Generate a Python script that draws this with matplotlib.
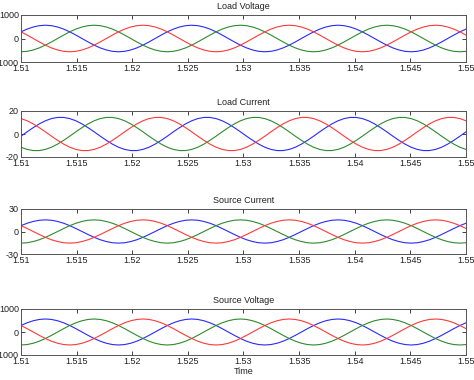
import numpy as np
import matplotlib
matplotlib.use("Agg")
import matplotlib.pyplot as plt

# sample times (s)
t = np.linspace(1.51, 1.55, 74)

# ---- Load Voltage (V) ----
load_v_blue = [
    283, 400, 489, 546, 565, 546, 489, 400, 283, 146, 0, -146,
    -283, -400, -489, -546, -565, -546, -489, -400, -283, -146, 0, 146,
    283, 400, 489, 546, 565, 546, 489, 400, 283, 146, 0, -146,
    -283, -400, -489, -546, -565, -546, -489, -400, -283, -146, 0, 146,
    283, 400, 489, 546, 565, 546, 489, 400, 283, 146, 0, -146,
    -283, -400, -489, -546, -565, -546, -489, -400, -283, -146, 0, 146,
    283, 400]
load_v_green = [
    -565, -546, -489, -400, -283, -146, 0, 146, 283, 400, 489, 546,
    565, 546, 489, 400, 283, 146, 0, -146, -283, -400, -489, -546,
    -565, -546, -489, -400, -283, -146, 0, 146, 283, 400, 489, 546,
    565, 546, 489, 400, 283, 146, 0, -146, -283, -400, -489, -546,
    -565, -546, -489, -400, -283, -146, 0, 146, 283, 400, 489, 546,
    565, 546, 489, 400, 283, 146, 0, -146, -283, -400, -489, -546,
    -565, -546]
load_v_red = [
    283, 146, 0, -146, -283, -400, -489, -546, -565, -546, -489, -400,
    -283, -146, 0, 146, 283, 400, 489, 546, 565, 546, 489, 400,
    283, 146, 0, -146, -283, -400, -489, -546, -565, -546, -489, -400,
    -283, -146, 0, 146, 283, 400, 489, 546, 565, 546, 489, 400,
    283, 146, 0, -146, -283, -400, -489, -546, -565, -546, -489, -400,
    -283, -146, 0, 146, 283, 400, 489, 546, 565, 546, 489, 400,
    283, 146]

# ---- Load Current (A) ----
load_i_blue = [
    -1.9, 1.9, 5.5, 8.8, 11.5, 13.4, 14.4, 14.4, 13.4, 11.5, 8.8, 5.5,
    1.9, -1.9, -5.5, -8.8, -11.5, -13.4, -14.4, -14.4, -13.4, -11.5, -8.8, -5.5,
    -1.9, 1.9, 5.5, 8.8, 11.5, 13.4, 14.4, 14.4, 13.4, 11.5, 8.8, 5.5,
    1.9, -1.9, -5.5, -8.8, -11.5, -13.4, -14.4, -14.4, -13.4, -11.5, -8.8, -5.5,
    -1.9, 1.9, 5.5, 8.8, 11.5, 13.4, 14.4, 14.4, 13.4, 11.5, 8.8, 5.5,
    1.9, -1.9, -5.5, -8.8, -11.5, -13.4, -14.4, -14.4, -13.4, -11.5, -8.8, -5.5,
    -1.9, 1.9]
load_i_green = [
    -11.5, -13.4, -14.4, -14.4, -13.4, -11.5, -8.8, -5.5, -1.9, 1.9, 5.5, 8.8,
    11.5, 13.4, 14.4, 14.4, 13.4, 11.5, 8.8, 5.5, 1.9, -1.9, -5.5, -8.8,
    -11.5, -13.4, -14.4, -14.4, -13.4, -11.5, -8.8, -5.5, -1.9, 1.9, 5.5, 8.8,
    11.5, 13.4, 14.4, 14.4, 13.4, 11.5, 8.8, 5.5, 1.9, -1.9, -5.5, -8.8,
    -11.5, -13.4, -14.4, -14.4, -13.4, -11.5, -8.8, -5.5, -1.9, 1.9, 5.5, 8.8,
    11.5, 13.4, 14.4, 14.4, 13.4, 11.5, 8.8, 5.5, 1.9, -1.9, -5.5, -8.8,
    -11.5, -13.4]
load_i_red = [
    13.4, 11.5, 8.8, 5.5, 1.9, -1.9, -5.5, -8.8, -11.5, -13.4, -14.4, -14.4,
    -13.4, -11.5, -8.8, -5.5, -1.9, 1.9, 5.5, 8.8, 11.5, 13.4, 14.4, 14.4,
    13.4, 11.5, 8.8, 5.5, 1.9, -1.9, -5.5, -8.8, -11.5, -13.4, -14.4, -14.4,
    -13.4, -11.5, -8.8, -5.5, -1.9, 1.9, 5.5, 8.8, 11.5, 13.4, 14.4, 14.4,
    13.4, 11.5, 8.8, 5.5, 1.9, -1.9, -5.5, -8.8, -11.5, -13.4, -14.4, -14.4,
    -13.4, -11.5, -8.8, -5.5, -1.9, 1.9, 5.5, 8.8, 11.5, 13.4, 14.4, 14.4,
    13.4, 11.5]

# ---- Source Current (A) ----
src_i_blue = [
    7.8, 11.0, 13.4, 15.0, 15.5, 15.0, 13.4, 11.0, 7.8, 4.0, 0.0, -4.0,
    -7.8, -11.0, -13.4, -15.0, -15.5, -15.0, -13.4, -11.0, -7.8, -4.0, 0.0, 4.0,
    7.8, 11.0, 13.4, 15.0, 15.5, 15.0, 13.4, 11.0, 7.8, 4.0, 0.0, -4.0,
    -7.8, -11.0, -13.4, -15.0, -15.5, -15.0, -13.4, -11.0, -7.8, -4.0, 0.0, 4.0,
    7.8, 11.0, 13.4, 15.0, 15.5, 15.0, 13.4, 11.0, 7.8, 4.0, 0.0, -4.0,
    -7.8, -11.0, -13.4, -15.0, -15.5, -15.0, -13.4, -11.0, -7.8, -4.0, 0.0, 4.0,
    7.8, 11.0]
src_i_green = [
    -15.5, -15.0, -13.4, -11.0, -7.8, -4.0, 0.0, 4.0, 7.8, 11.0, 13.4, 15.0,
    15.5, 15.0, 13.4, 11.0, 7.8, 4.0, 0.0, -4.0, -7.8, -11.0, -13.4, -15.0,
    -15.5, -15.0, -13.4, -11.0, -7.8, -4.0, 0.0, 4.0, 7.8, 11.0, 13.4, 15.0,
    15.5, 15.0, 13.4, 11.0, 7.8, 4.0, 0.0, -4.0, -7.8, -11.0, -13.4, -15.0,
    -15.5, -15.0, -13.4, -11.0, -7.8, -4.0, 0.0, 4.0, 7.8, 11.0, 13.4, 15.0,
    15.5, 15.0, 13.4, 11.0, 7.8, 4.0, 0.0, -4.0, -7.8, -11.0, -13.4, -15.0,
    -15.5, -15.0]
src_i_red = [
    7.8, 4.0, 0.0, -4.0, -7.8, -11.0, -13.4, -15.0, -15.5, -15.0, -13.4, -11.0,
    -7.8, -4.0, 0.0, 4.0, 7.8, 11.0, 13.4, 15.0, 15.5, 15.0, 13.4, 11.0,
    7.8, 4.0, 0.0, -4.0, -7.8, -11.0, -13.4, -15.0, -15.5, -15.0, -13.4, -11.0,
    -7.8, -4.0, 0.0, 4.0, 7.8, 11.0, 13.4, 15.0, 15.5, 15.0, 13.4, 11.0,
    7.8, 4.0, 0.0, -4.0, -7.8, -11.0, -13.4, -15.0, -15.5, -15.0, -13.4, -11.0,
    -7.8, -4.0, 0.0, 4.0, 7.8, 11.0, 13.4, 15.0, 15.5, 15.0, 13.4, 11.0,
    7.8, 4.0]

# ---- Source Voltage (V) ----
src_v_blue = [
    283, 400, 489, 546, 565, 546, 489, 400, 283, 146, 0, -146,
    -283, -400, -489, -546, -565, -546, -489, -400, -283, -146, 0, 146,
    283, 400, 489, 546, 565, 546, 489, 400, 283, 146, 0, -146,
    -283, -400, -489, -546, -565, -546, -489, -400, -283, -146, 0, 146,
    283, 400, 489, 546, 565, 546, 489, 400, 283, 146, 0, -146,
    -283, -400, -489, -546, -565, -546, -489, -400, -283, -146, 0, 146,
    283, 400]
src_v_green = [
    -565, -546, -489, -400, -283, -146, 0, 146, 283, 400, 489, 546,
    565, 546, 489, 400, 283, 146, 0, -146, -283, -400, -489, -546,
    -565, -546, -489, -400, -283, -146, 0, 146, 283, 400, 489, 546,
    565, 546, 489, 400, 283, 146, 0, -146, -283, -400, -489, -546,
    -565, -546, -489, -400, -283, -146, 0, 146, 283, 400, 489, 546,
    565, 546, 489, 400, 283, 146, 0, -146, -283, -400, -489, -546,
    -565, -546]
src_v_red = [
    283, 146, 0, -146, -283, -400, -489, -546, -565, -546, -489, -400,
    -283, -146, 0, 146, 283, 400, 489, 546, 565, 546, 489, 400,
    283, 146, 0, -146, -283, -400, -489, -546, -565, -546, -489, -400,
    -283, -146, 0, 146, 283, 400, 489, 546, 565, 546, 489, 400,
    283, 146, 0, -146, -283, -400, -489, -546, -565, -546, -489, -400,
    -283, -146, 0, 146, 283, 400, 489, 546, 565, 546, 489, 400,
    283, 146]

titles = ["Load Voltage", "Load Current", "Source Current", "Source Voltage"]
ylims = [(-1000, 1000), (-20, 20), (-30, 30), (-1000, 1000)]
yticks = [[-1000, 0, 1000], [-20, 0, 20], [-30, 0, 30], [-1000, 0, 1000]]
xticks = [1.51, 1.515, 1.52, 1.525, 1.53, 1.535, 1.54, 1.545, 1.55]
xtick_labels = ["1.51", "1.515", "1.52", "1.525", "1.53", "1.535", "1.54", "1.545", "1.55"]
xlabel = "Time"

panels = [
    (load_v_blue, load_v_green, load_v_red),
    (load_i_blue, load_i_green, load_i_red),
    (src_i_blue, src_i_green, src_i_red),
    (src_v_blue, src_v_green, src_v_red),
]

plt.rcParams['font.family'] = ['Liberation Sans', 'DejaVu Sans']

fig = plt.figure(figsize=(4.74, 3.80), dpi=100)
W = 474.0
H = 380.0
left_px, right_px = 21, 466
tops = [15, 111, 209, 309]
bottoms = [62, 157, 254, 355]

c_blue = '#2a2aff'
c_green = '#2e8b2e'
c_red = '#ff3a3a'

for i, (series, title) in enumerate(zip(panels, titles)):
    ax = fig.add_axes([left_px / W, 1 - bottoms[i] / H,
                       (right_px - left_px) / W, (bottoms[i] - tops[i]) / H])
    b, g, r = series
    ax.plot(t, b, color=c_blue, lw=0.8)
    ax.plot(t, g, color=c_green, lw=0.8)
    ax.plot(t, r, color=c_red, lw=0.8)
    ax.set_xlim(1.51, 1.55)
    ax.set_ylim(*ylims[i])
    ax.set_yticks(yticks[i])
    ax.set_yticklabels([str(v) for v in yticks[i]])
    ax.set_xticks(xticks)
    ax.set_xticklabels(xtick_labels)
    ax.tick_params(direction='in', top=True, right=True, length=3, width=0.6,
                   labelsize=6.5, pad=1.5, colors='#222222')
    for s in ax.spines.values():
        s.set_linewidth(0.7)
        s.set_color('#555555')
    ax.set_title(title, fontsize=6.5, pad=4, color='#222222')
    if i == 3:
        ax.set_xlabel(xlabel, fontsize=6.5, labelpad=1, color='#222222')

fig.savefig("out.png", dpi=100)
